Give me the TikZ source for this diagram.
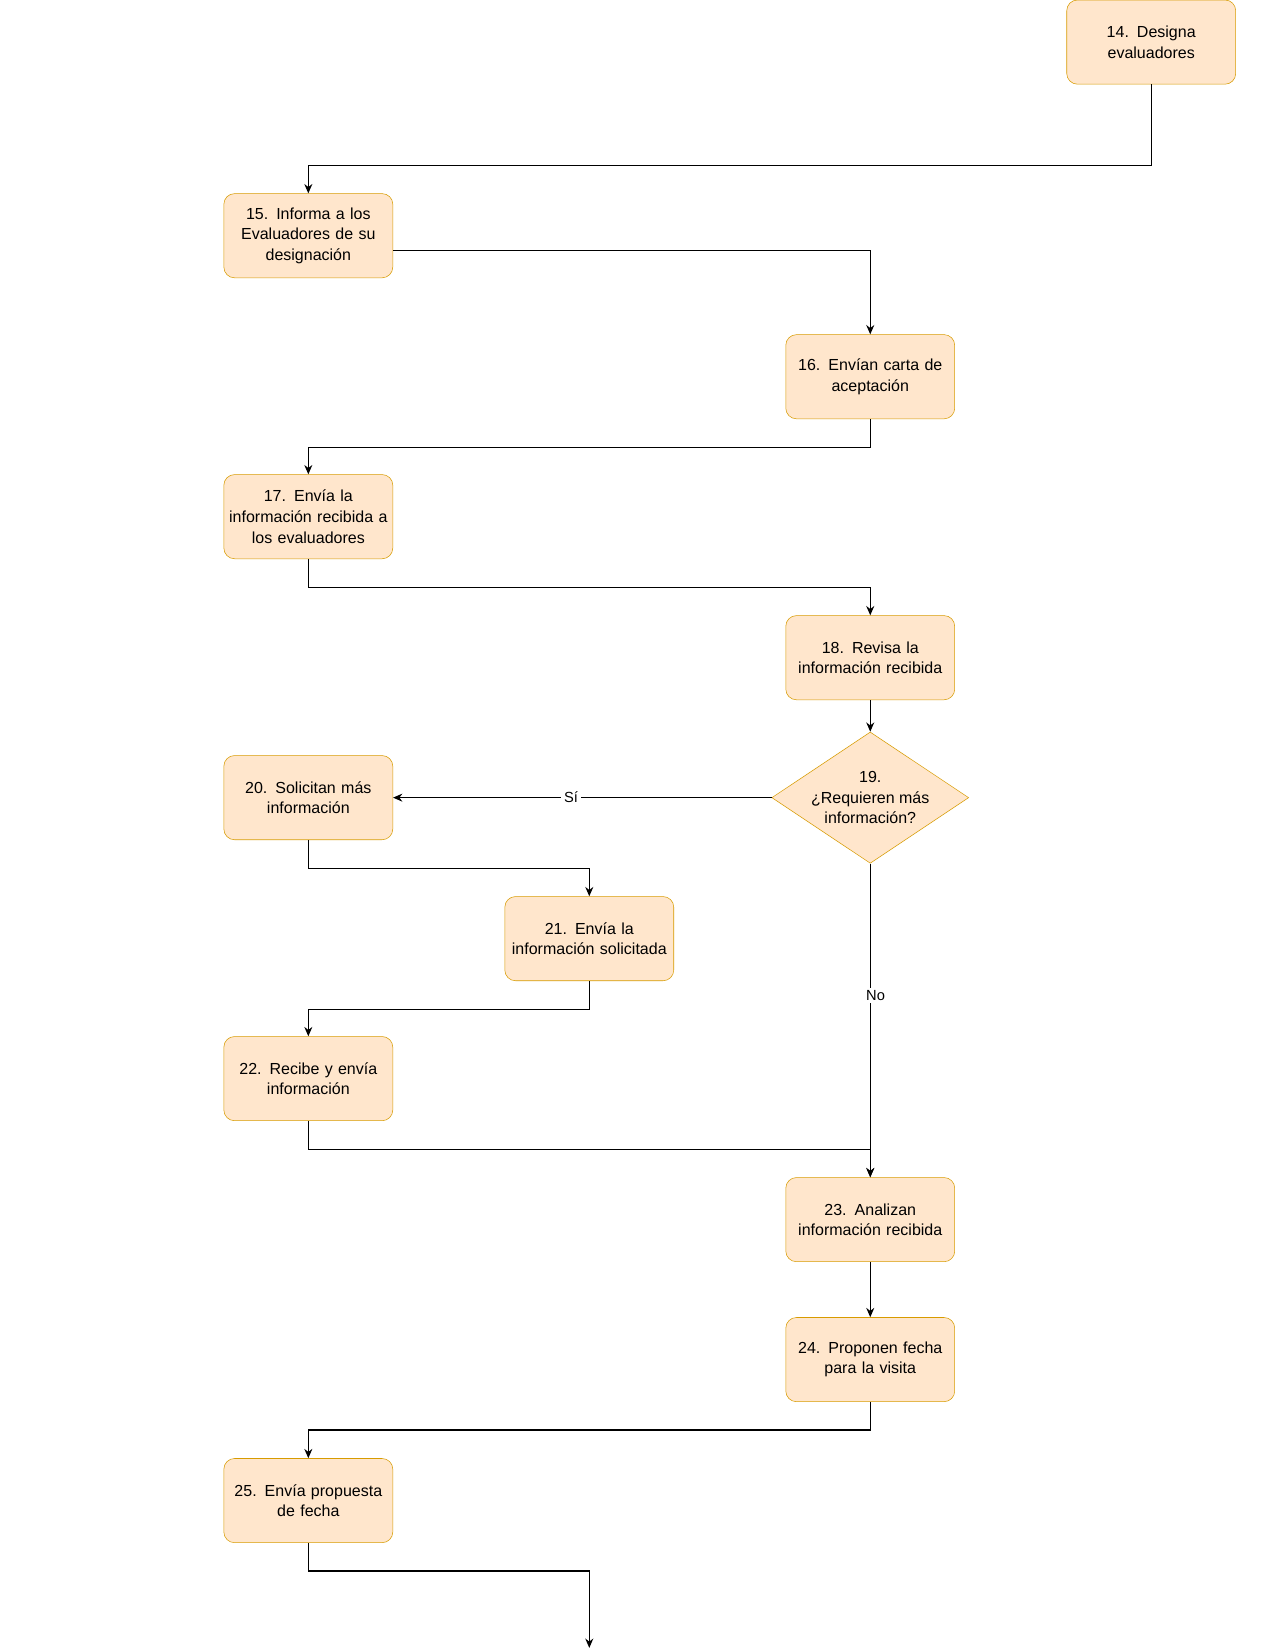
\documentclass[tikz,border=0pt]{standalone}
\usepackage{fontspec}
\setmainfont{Liberation Sans}
\usetikzlibrary{shapes.geometric,calc,arrows.meta}
\definecolor{bfill}{HTML}{FFE6CC}
\definecolor{bdraw}{HTML}{D79B00}
\begin{document}
\begin{tikzpicture}[x=0.789pt,y=-0.789pt,
  box/.style={draw=bdraw,fill=bfill,rounded corners=8pt,minimum width=160*0.789pt,minimum height=80*0.789pt,align=center,inner sep=1pt,text width=158*0.789pt,font=\fontsize{12}{15.4}\selectfont},
  dia/.style={diamond,draw=bdraw,fill=bfill,minimum width=152*0.789pt,minimum height=102*0.789pt,aspect=1.5,align=center,inner sep=0pt,font=\fontsize{12}{15.4}\selectfont},
  ln/.style={draw,thick,line width=0.9pt,-{Stealth[length=7pt,width=6pt]}},
  lab/.style={fill=white,font=\fontsize{11}{13}\selectfont,inner sep=2pt}]
\useasboundingbox (0,0) rectangle (1212,1568);
\node[box] (n14) at (1094,40) {14. Designa\\evaluadores};
\node[box] (n15) at (293,224) {15. Informa a los\\Evaluadores de su\\designación};
\node[box] (n16) at (827,358) {16. Envían carta de\\aceptación};
\node[box] (n17) at (293,491) {17. Envía la\\información recibida a\\los evaluadores};
\node[box] (n18) at (827,625) {18. Revisa la\\información recibida};
\node[dia] (n19) at (827,758) {19.\\¿Requieren más\\información?};
\node[box] (n20) at (293,758) {20. Solicitan más\\información};
\node[box] (n21) at (560,892) {21. Envía la\\información solicitada};
\node[box] (n22) at (293,1025) {22. Recibe y envía\\información};
\node[box] (n23) at (827,1159) {23. Analizan\\información recibida};
\node[box] (n24) at (827,1292) {24. Proponen fecha\\para la visita};
\node[box] (n25) at (293,1426) {25. Envía propuesta\\de fecha};
\coordinate (end) at (560,1566);

\draw[ln] (n14.south) |- (293,157) -- (n15.north);
\draw[ln] ($(n15.east)+(0,14)$) -| (n16.north);
\draw[ln] (n16.south) |- (293,425) -- (n17.north);
\draw[ln] (n17.south) |- (827,558) -- (n18.north);
\draw[ln] (n18.south) -- (n19.north);
\draw[ln] (n19.west) -- node[lab,pos=0.53]{Sí} (n20.east);
\draw[ln] (n20.south) |- (560,825) -- (n21.north);
\draw[ln] (n21.south) |- (293,959) -- (n22.north);
\draw[ln] (n22.south) |- (827,1092) -- (n23.north);
\draw[ln] (n19.south) -- node[lab,pos=0.42,xshift=4pt]{No} (n23.north);
\draw[ln] (n23.south) -- (n24.north);
\draw[ln] (n24.south) |- (293,1359) -- (n25.north);
\draw[ln] (n25.south) |- (560,1493) -- (end);
\end{tikzpicture}
\end{document}
